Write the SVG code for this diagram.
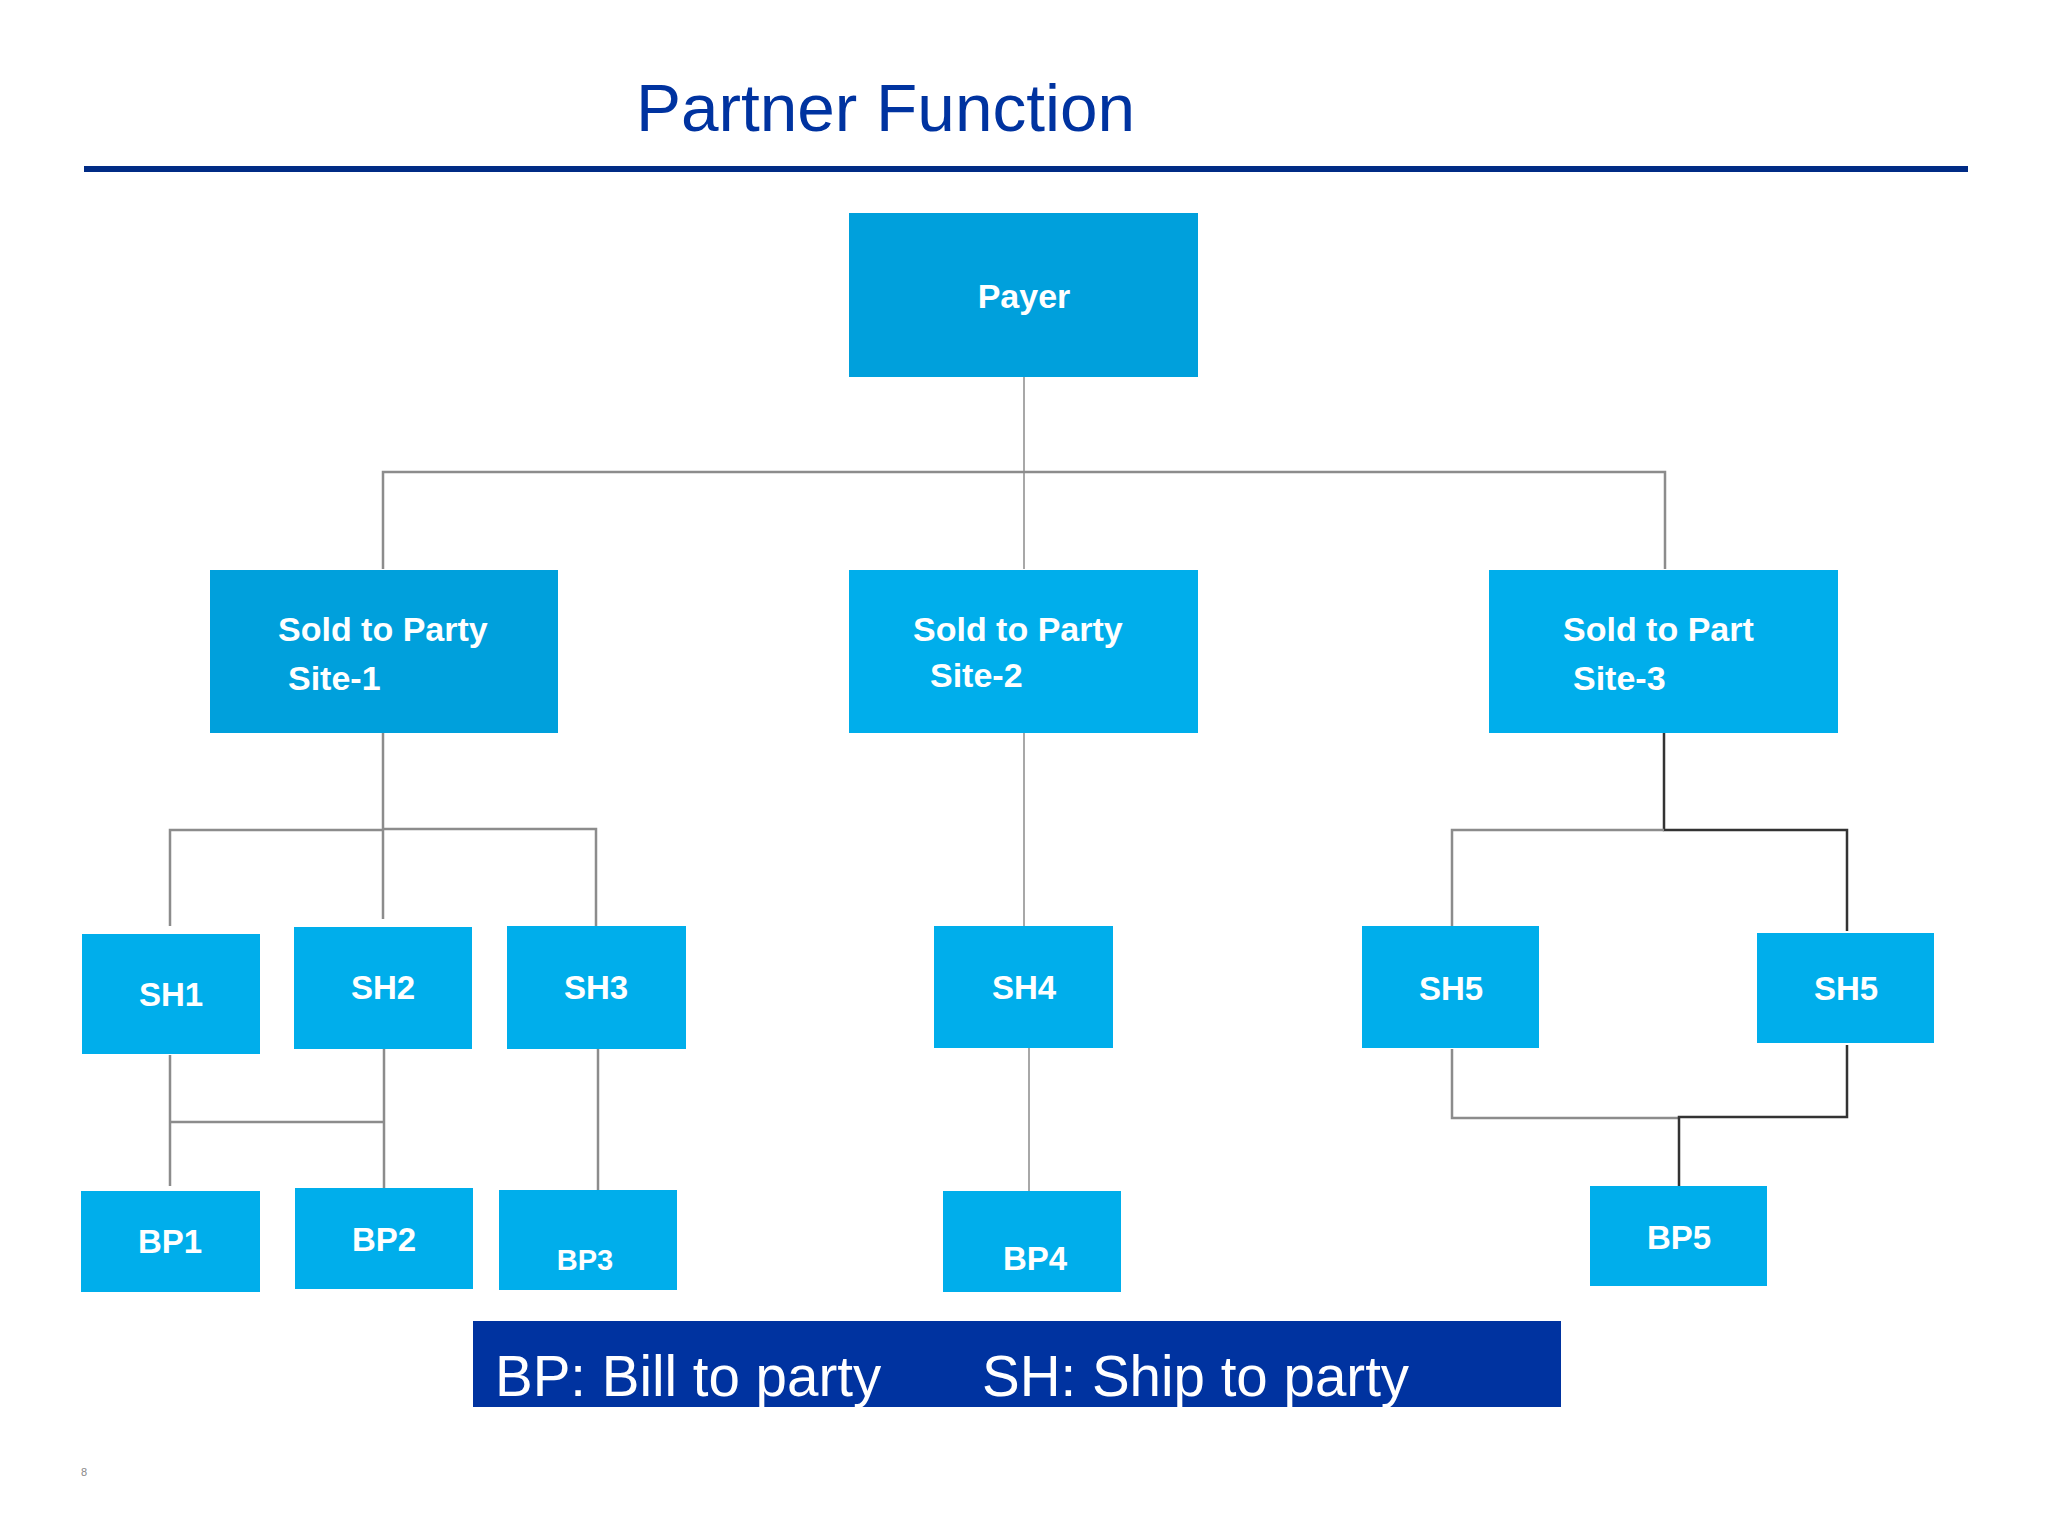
<svg xmlns="http://www.w3.org/2000/svg" width="2048" height="1536" viewBox="0 0 2048 1536">
<style>
.box{fill:#00AEEB}
.dark{fill:#00A0DC}
.lbl{font-family:"Liberation Sans",Arial,sans-serif;font-weight:bold;fill:#FFFFFF;font-size:33px}
.big{font-size:34px}
.sm{font-size:29px}
.c{stroke:#8C8C8C;stroke-width:2.5;fill:none}
.cl{stroke:#A8A8A8;stroke-width:2;fill:none}
.cd{stroke:#333333;stroke-width:2.5;fill:none}
</style>
<rect width="2048" height="1536" fill="#FFFFFF"/>
<text x="636" y="131" font-family="'Liberation Sans',Arial,sans-serif" font-size="67.5" fill="#0033A0">Partner Function</text>
<rect x="84" y="166" width="1884" height="6" fill="#002B85"/>

<g id="connectors">
  <path class="cl" d="M1024 377 V569"/>
  <path class="c" d="M383 569 V472 H1665 V569"/>
  <path class="c" d="M383 733 V829"/>
  <path class="c" d="M170 926 V830 H383 V919 M383 829 H596 V926"/>
  <path class="c" d="M170 1055 V1186 M170 1122 H384 V1191 M384 1049 V1122"/>
  <path class="c" d="M598 1048 V1190"/>
  <path class="cl" d="M1024 733 V926"/>
  <path class="cl" d="M1029 1048 V1191"/>
  <path class="cd" d="M1664 733 V830 H1847 V931"/>
  <path class="c" d="M1664 830 H1452 V926"/>
  <path class="c" d="M1452 1049 V1118 H1679"/>
  <path class="cd" d="M1847 1045 V1117 H1679 V1188"/>
</g>

<g id="payer"><rect class="dark" x="849" y="213" width="349" height="164"/><text class="lbl" x="1024" y="308" text-anchor="middle" style="font-size:34px">Payer</text></g>
<g id="site1"><rect class="dark" x="210" y="570" width="348" height="163"/><text class="lbl big" x="278" y="641">Sold to Party</text><text class="lbl big" x="288" y="690">Site-1</text></g>
<g id="site2"><rect class="box" x="849" y="570" width="349" height="163"/><text class="lbl big" x="913" y="641">Sold to Party</text><text class="lbl big" x="930" y="687">Site-2</text></g>
<g id="site3"><rect class="box" x="1489" y="570" width="349" height="163"/><text class="lbl big" x="1563" y="641">Sold to Part</text><text class="lbl big" x="1573" y="690">Site-3</text></g>

<g id="sh1"><rect class="box" x="82" y="934" width="178" height="120"/><text class="lbl" x="171" y="1006" text-anchor="middle">SH1</text></g>
<g id="sh2"><rect class="box" x="294" y="927" width="178" height="122"/><text class="lbl" x="383" y="999" text-anchor="middle">SH2</text></g>
<g id="sh3"><rect class="box" x="507" y="926" width="179" height="123"/><text class="lbl" x="596" y="999" text-anchor="middle">SH3</text></g>
<g id="sh4"><rect class="box" x="934" y="926" width="179" height="122"/><text class="lbl" x="1024" y="999" text-anchor="middle">SH4</text></g>
<g id="sh5a"><rect class="box" x="1362" y="926" width="177" height="122"/><text class="lbl" x="1451" y="1000" text-anchor="middle">SH5</text></g>
<g id="sh5b"><rect class="box" x="1757" y="933" width="177" height="110"/><text class="lbl" x="1846" y="1000" text-anchor="middle">SH5</text></g>

<g id="bp1"><rect class="box" x="81" y="1191" width="179" height="101"/><text class="lbl" x="170" y="1253" text-anchor="middle">BP1</text></g>
<g id="bp2"><rect class="box" x="295" y="1188" width="178" height="101"/><text class="lbl" x="384" y="1251" text-anchor="middle">BP2</text></g>
<g id="bp3"><rect class="box" x="499" y="1190" width="178" height="100"/><text class="lbl sm" x="585" y="1270" text-anchor="middle">BP3</text></g>
<g id="bp4"><rect class="box" x="943" y="1191" width="178" height="101"/><text class="lbl" x="1035" y="1270" text-anchor="middle">BP4</text></g>
<g id="bp5"><rect class="box" x="1590" y="1186" width="177" height="100"/><text class="lbl" x="1679" y="1249" text-anchor="middle">BP5</text></g>

<g id="legend"><rect x="473" y="1321" width="1088" height="86" fill="#0033A0"/>
<text x="495" y="1396" font-family="'Liberation Sans',Arial,sans-serif" font-size="56.5" fill="#FFFFFF">BP: Bill to party</text>
<text x="982" y="1396" font-family="'Liberation Sans',Arial,sans-serif" font-size="56.5" fill="#FFFFFF">SH: Ship to party</text></g>
<text x="81" y="1476" font-family="'Liberation Sans',Arial,sans-serif" font-size="11" fill="#888888">8</text>
</svg>
